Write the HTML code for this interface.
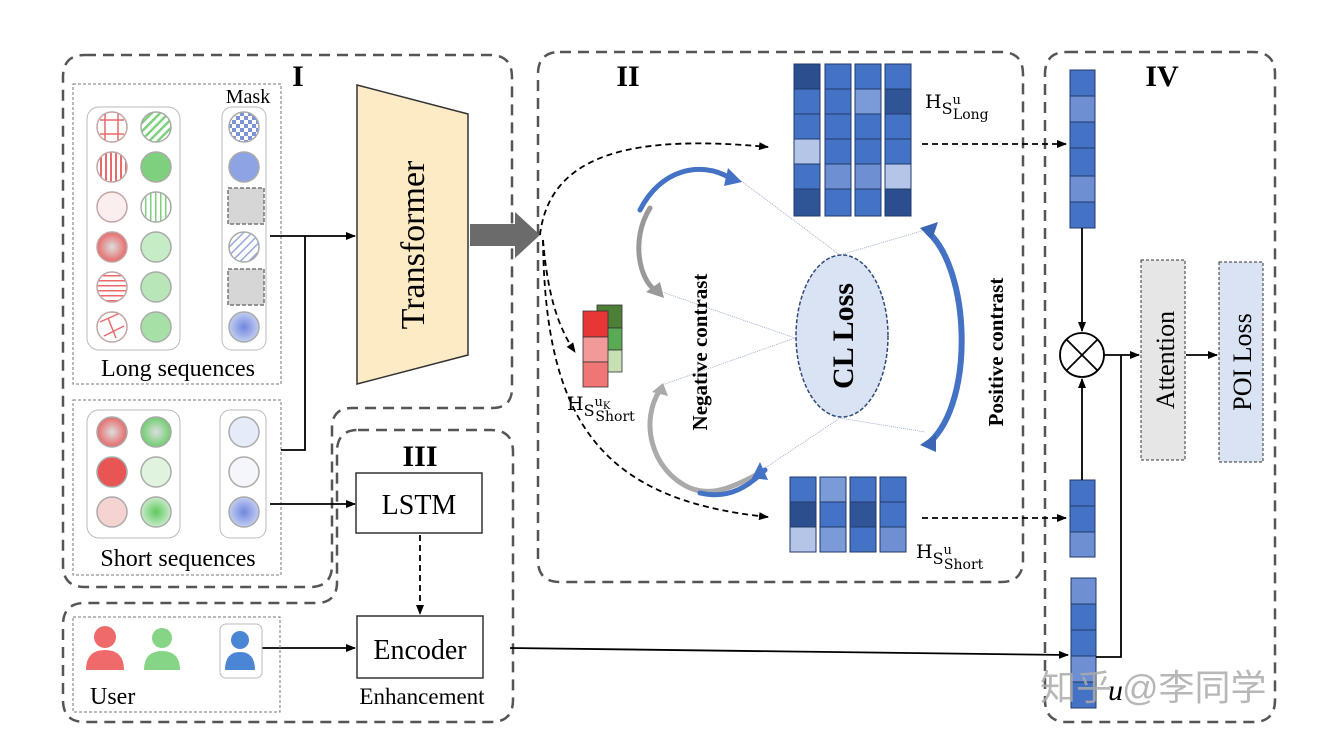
<!DOCTYPE html>
<html><head><meta charset="utf-8"><style>html,body{margin:0;padding:0;background:#fff}svg{display:block}</style></head>
<body>
<svg width="1318" height="742" viewBox="0 0 1318 742" xmlns="http://www.w3.org/2000/svg" font-family="Liberation Serif, serif">
<defs>
<marker id="ah" markerWidth="10" markerHeight="8" refX="9" refY="4" orient="auto" markerUnits="userSpaceOnUse"><path d="M0,0 L10,4 L0,8 z" fill="#000"/></marker>
<pattern id="rs" width="5" height="5" patternUnits="userSpaceOnUse"><rect width="5" height="5" fill="#fff"/><rect width="2" height="5" fill="#e86a6a"/></pattern>
<pattern id="rh" width="5" height="5" patternUnits="userSpaceOnUse"><rect width="5" height="5" fill="#fff"/><rect width="5" height="1.5" fill="#e86a6a"/></pattern>
<pattern id="gs" width="6" height="6" patternUnits="userSpaceOnUse" patternTransform="rotate(45)"><rect width="6" height="6" fill="#fff"/><rect width="2.5" height="6" fill="#7ed07e"/></pattern>
<pattern id="gv" width="5" height="5" patternUnits="userSpaceOnUse"><rect width="5" height="5" fill="#fff"/><rect width="1.5" height="5" fill="#7ed07e"/></pattern>
<pattern id="bd" width="6" height="6" patternUnits="userSpaceOnUse" patternTransform="rotate(45)"><rect width="6" height="6" fill="#fff"/><rect width="1.5" height="6" fill="#9aa9dd"/></pattern>
<pattern id="bc" width="8" height="8" patternUnits="userSpaceOnUse"><rect width="8" height="8" fill="#fff"/><rect width="4" height="4" fill="#7d93d8"/><rect x="4" y="4" width="4" height="4" fill="#7d93d8"/></pattern>
<radialGradient id="rg"><stop offset="0" stop-color="#ddd"/><stop offset="1" stop-color="#e86a6a"/></radialGradient>
<radialGradient id="gg"><stop offset="0" stop-color="#ddd"/><stop offset="1" stop-color="#6fce6f"/></radialGradient>
<radialGradient id="bg"><stop offset="0" stop-color="#6f86e0"/><stop offset="1" stop-color="#c3cdf0"/></radialGradient>
<radialGradient id="gg2"><stop offset="0" stop-color="#5fc95f"/><stop offset="1" stop-color="#c9ebc9"/></radialGradient>
</defs>

<g fill="none" stroke="#555" stroke-width="2.5" stroke-dasharray="11,7">
<path d="M85,55 H490 Q512,55 512,77 V388 Q512,408 492,408 H352 Q332,408 332,428 V565 Q332,587 310,587 H85 Q63,587 63,565 V77 Q63,55 85,55 Z"/>
<path d="M560,52 H1001 Q1023,52 1023,74 V560 Q1023,582 1001,582 H560 Q538,582 538,560 V74 Q538,52 560,52 Z"/>
<path d="M1067,52 H1253 Q1275,52 1275,74 V700 Q1275,722 1253,722 H1067 Q1045,722 1045,700 V74 Q1045,52 1067,52 Z"/>
<path d="M358,430 H491 Q513,430 513,452 V700 Q513,722 491,722 H85 Q63,722 63,700 V625 Q63,603 85,603 H316 Q337,603 337,582 V452 Q337,430 358,430 Z"/>
</g>

<g font-weight="bold" font-size="30" text-anchor="middle">
<text x="298" y="86">I</text><text x="628" y="86">II</text><text x="420" y="466">III</text><text x="1162" y="86">IV</text>
</g>

<rect x="73" y="84" width="208" height="300" fill="none" stroke="#777" stroke-dasharray="3,2"/>
<rect x="87" y="107" width="93" height="243" rx="12" fill="none" stroke="#bbb"/>
<rect x="222" y="107" width="44" height="243" rx="10" fill="none" stroke="#bbb"/>
<text x="248" y="103" font-size="20" text-anchor="middle">Mask</text>
<g stroke="#c4a4a4" stroke-width="1.5">
<circle cx="112" cy="127" r="15" fill="#fff"/><path d="M100,120H124M100,134H124M105,114V140M118,114V140" stroke="#e86a6a"/>
<circle cx="156" cy="127" r="15" fill="url(#gs)" stroke="#aaa"/>
<circle cx="112" cy="167" r="15" fill="url(#rs)"/>
<circle cx="156" cy="167" r="15" fill="#7ed07e" stroke="#aaa"/>
<circle cx="112" cy="207" r="15" fill="#fbeeee"/>
<circle cx="156" cy="207" r="15" fill="url(#gv)" stroke="#aaa"/>
<circle cx="112" cy="247" r="15" fill="url(#rg)"/>
<circle cx="156" cy="247" r="15" fill="#c6ecc6" stroke="#aaa"/>
<circle cx="112" cy="287" r="15" fill="url(#rh)"/>
<circle cx="156" cy="287" r="15" fill="#b8e6b8" stroke="#aaa"/>
<circle cx="112" cy="327" r="15" fill="#fff"/><path d="M100,322L118,314M104,336L124,326M108,318L116,338" stroke="#e86a6a"/>
<circle cx="156" cy="327" r="15" fill="#a7e0a7" stroke="#aaa"/>
<circle cx="244" cy="127" r="15" fill="url(#bc)" stroke="#aaa"/>
<circle cx="244" cy="167" r="15" fill="#8ea3e3" stroke="#aaa"/>
<circle cx="244" cy="247" r="15" fill="url(#bd)" stroke="#aaa"/>
<circle cx="244" cy="327" r="15" fill="url(#bg)" stroke="#aaa"/>
</g>
<rect x="228" y="188" width="36" height="36" fill="#d6d6d6" stroke="#777" stroke-dasharray="4,2" stroke-width="1.5"/>
<rect x="228" y="269" width="36" height="36" fill="#d6d6d6" stroke="#777" stroke-dasharray="4,2" stroke-width="1.5"/>
<text x="178" y="376" font-size="24" text-anchor="middle">Long sequences</text>

<rect x="73" y="400" width="208" height="175" fill="none" stroke="#777" stroke-dasharray="3,2"/>
<rect x="87" y="410" width="93" height="128" rx="12" fill="none" stroke="#bbb"/>
<rect x="220" y="410" width="46" height="128" rx="10" fill="none" stroke="#bbb"/>
<g stroke="#aaa" stroke-width="1.5">
<circle cx="112" cy="432" r="15" fill="url(#rg)"/><circle cx="156" cy="432" r="15" fill="url(#gg)"/>
<circle cx="112" cy="472" r="15" fill="#e95454"/><circle cx="156" cy="472" r="15" fill="#dff3df"/>
<circle cx="112" cy="512" r="15" fill="#f6d3d3"/><circle cx="156" cy="512" r="15" fill="url(#gg2)"/>
<circle cx="244" cy="432" r="15" fill="#e6ebfa"/><circle cx="244" cy="472" r="15" fill="#f4f6fc"/><circle cx="244" cy="512" r="15" fill="url(#bg)"/>
</g>
<text x="178" y="566" font-size="24" text-anchor="middle">Short sequences</text>

<polygon points="357,85 468,114 468,355 357,384" fill="#fdebc6" stroke="#333" stroke-width="1.5"/>
<text transform="translate(424,245) rotate(-90)" font-size="34" text-anchor="middle">Transformer</text>
<g stroke="#000" stroke-width="1.8" fill="none">
<path d="M270,236 H355" marker-end="url(#ah)"/>
<path d="M305,236 V450 H281"/>
<path d="M270,504 H355" marker-end="url(#ah)"/>
<path d="M262,648 H355" marker-end="url(#ah)"/>
<path d="M420,535 V614" stroke-dasharray="6,4" marker-end="url(#ah)"/>
<path d="M510,648 L1068,655" marker-end="url(#ah)"/>
</g>
<polygon points="470,224 515,224 515,212 540,235 515,258 515,246 470,246" fill="#6b6b6b"/>

<rect x="356" y="473" width="126" height="60" fill="#fff" stroke="#333" stroke-width="1.5"/>
<text x="419" y="514" font-size="28" text-anchor="middle">LSTM</text>
<rect x="357" y="616" width="126" height="62" fill="#fff" stroke="#333" stroke-width="1.5"/>
<text x="420" y="659" font-size="28" text-anchor="middle">Encoder</text>
<text x="422" y="704" font-size="23" text-anchor="middle">Enhancement</text>

<rect x="73" y="617" width="207" height="95" fill="none" stroke="#777" stroke-dasharray="3,2"/>
<g fill="#ef6b6b"><circle cx="105" cy="637" r="11"/><path d="M86,670 Q86,650 105,650 Q124,650 124,670 Z"/></g>
<g fill="#86d486"><circle cx="162" cy="638" r="10"/><path d="M144,670 Q144,651 162,651 Q180,651 180,670 Z"/></g>
<rect x="220" y="624" width="42" height="54" rx="6" fill="#fff" stroke="#bbb"/>
<g fill="#4a86d4"><circle cx="240" cy="640" r="9"/><path d="M225,670 Q225,652 240,652 Q255,652 255,670 Z"/></g>
<text x="90" y="704" font-size="24">User</text>

<g stroke="#1f3a6a" stroke-width="1">
<g>
<rect x="794" y="64" width="26" height="25" fill="#2b4f8e"/><rect x="794" y="89" width="26" height="25" fill="#4472c4"/><rect x="794" y="114" width="26" height="25" fill="#4472c4"/><rect x="794" y="139" width="26" height="25" fill="#b4c5e7"/><rect x="794" y="164" width="26" height="25" fill="#4472c4"/><rect x="794" y="189" width="26" height="27" fill="#2f5597"/>
<rect x="825" y="64" width="26" height="25" fill="#4472c4"/><rect x="825" y="89" width="26" height="25" fill="#4472c4"/><rect x="825" y="114" width="26" height="25" fill="#4472c4"/><rect x="825" y="139" width="26" height="25" fill="#4472c4"/><rect x="825" y="164" width="26" height="25" fill="#6f8fd3"/><rect x="825" y="189" width="26" height="27" fill="#4472c4"/>
<rect x="855" y="64" width="26" height="25" fill="#4472c4"/><rect x="855" y="89" width="26" height="25" fill="#7a9ad8"/><rect x="855" y="114" width="26" height="25" fill="#4472c4"/><rect x="855" y="139" width="26" height="25" fill="#4472c4"/><rect x="855" y="164" width="26" height="25" fill="#6f8fd3"/><rect x="855" y="189" width="26" height="27" fill="#4472c4"/>
<rect x="885" y="64" width="26" height="25" fill="#4472c4"/><rect x="885" y="89" width="26" height="25" fill="#2f5597"/><rect x="885" y="114" width="26" height="25" fill="#4472c4"/><rect x="885" y="139" width="26" height="25" fill="#4472c4"/><rect x="885" y="164" width="26" height="25" fill="#b4c5e7"/><rect x="885" y="189" width="26" height="27" fill="#2b4f8e"/>
</g>
<g>
<rect x="790" y="477" width="26" height="25" fill="#4472c4"/><rect x="790" y="502" width="26" height="25" fill="#2b4f8e"/><rect x="790" y="527" width="26" height="25" fill="#b4c5e7"/>
<rect x="820" y="477" width="26" height="25" fill="#7a9ad8"/><rect x="820" y="502" width="26" height="25" fill="#4472c4"/><rect x="820" y="527" width="26" height="25" fill="#7a9ad8"/>
<rect x="850" y="477" width="26" height="25" fill="#4472c4"/><rect x="850" y="502" width="26" height="25" fill="#2f5597"/><rect x="850" y="527" width="26" height="25" fill="#4472c4"/>
<rect x="880" y="477" width="26" height="25" fill="#4472c4"/><rect x="880" y="502" width="26" height="25" fill="#4472c4"/><rect x="880" y="527" width="26" height="25" fill="#6f8fd3"/>
</g>
</g>
<g stroke="#333" stroke-width="0.8">
<rect x="597" y="305" width="25" height="23" fill="#4e7f36"/><rect x="597" y="328" width="25" height="22" fill="#5aaa55"/><rect x="597" y="350" width="25" height="22" fill="#c6e0b4"/>
<rect x="583" y="311" width="25" height="26" fill="#e83535"/><rect x="583" y="337" width="25" height="25" fill="#f29a9a"/><rect x="583" y="362" width="25" height="25" fill="#f07575"/>
</g>
<g font-family="DejaVu Serif, serif">
<text x="925" y="108" font-size="19">H<tspan font-size="16" dy="6">S</tspan><tspan font-size="13" dy="-10">u</tspan><tspan font-size="14" dx="-8" dy="15">Long</tspan></text>
<text x="916" y="558" font-size="19">H<tspan font-size="16" dy="6">S</tspan><tspan font-size="13" dy="-10">u</tspan><tspan font-size="14" dx="-8" dy="15">Short</tspan></text>
<text x="567" y="410" font-size="19">H<tspan font-size="16" dy="6">S</tspan><tspan font-size="13" dy="-10">u</tspan><tspan font-size="10" dy="3">K</tspan><tspan font-size="14" dx="-15" dy="12">Short</tspan></text>
</g>

<g fill="none" stroke="#000" stroke-width="1.8" stroke-dasharray="6,4">
<path d="M540,235 C550,150 640,135 768,147" marker-end="url(#ah)"/>
<path d="M543,240 C548,300 560,330 575,352" marker-end="url(#ah)"/>
<path d="M543,240 C545,420 600,500 768,517" marker-end="url(#ah)"/>
<path d="M922,144 H1066" marker-end="url(#ah)"/>
<path d="M922,518 H1066" marker-end="url(#ah)"/>
</g>
<g stroke="#8fa0c8" stroke-width="0.8" stroke-dasharray="1,1" fill="none">
<path d="M740,180 L840,255 L925,230"/><path d="M662,292 L795,338 L662,385"/><path d="M765,468 L840,418 L925,432"/>
</g>
<ellipse cx="842" cy="336" rx="46" ry="81" fill="#dae3f3" stroke="#2f4a7a" stroke-width="1.5" stroke-dasharray="4,2"/>
<text transform="translate(853,336) rotate(-90)" font-size="30" font-weight="bold" text-anchor="middle">CL Loss</text>
<text transform="translate(707,352) rotate(-90)" font-size="21" font-weight="bold" text-anchor="middle">Negative contrast</text>
<text transform="translate(1003,352) rotate(-90)" font-size="21" font-weight="bold" text-anchor="middle">Positive contrast</text>
<g fill="none" stroke-linecap="round">
<path d="M640,210 C660,170 700,160 730,178" stroke="#4472c4" stroke-width="5"/>
<polygon points="728,168 742,182 724,186" fill="#4472c4"/>
<path d="M650,208 C630,240 640,280 655,290" stroke="#999" stroke-width="5"/>
<polygon points="646,292 664,298 660,282" fill="#999"/>
<path d="M660,390 C640,420 650,470 690,488 C710,496 730,490 765,470" stroke="#aaa" stroke-width="5"/>
<polygon points="652,392 663,383 668,396" fill="#aaa"/>
<path d="M700,493 C730,500 750,485 765,470" stroke="#4472c4" stroke-width="5"/>
<polygon points="760,462 768,480 752,478" fill="#4472c4"/>
<path d="M928,232 C970,270 975,400 930,442" stroke="#4472c4" stroke-width="6"/>
<polygon points="920,228 938,222 932,240" fill="#3a66b5"/>
<polygon points="920,445 936,434 936,452" fill="#3a66b5"/>
</g>

<g stroke="#1f3a6a" stroke-width="1">
<rect x="1070" y="70" width="25" height="26" fill="#4472c4"/><rect x="1070" y="96" width="25" height="26" fill="#6f8fd3"/><rect x="1070" y="122" width="25" height="26" fill="#4472c4"/><rect x="1070" y="148" width="25" height="28" fill="#4472c4"/><rect x="1070" y="176" width="25" height="26" fill="#6f8fd3"/><rect x="1070" y="202" width="25" height="26" fill="#4472c4"/>
<rect x="1070" y="480" width="25" height="26" fill="#4472c4"/><rect x="1070" y="506" width="25" height="26" fill="#4472c4"/><rect x="1070" y="532" width="25" height="25" fill="#6f8fd3"/>
<rect x="1071" y="578" width="25" height="26" fill="#6f8fd3"/><rect x="1071" y="604" width="25" height="26" fill="#4472c4"/><rect x="1071" y="630" width="25" height="26" fill="#4472c4"/><rect x="1071" y="656" width="25" height="26" fill="#6f8fd3"/><rect x="1071" y="682" width="25" height="26" fill="#4472c4"/>
</g>
<g stroke="#000" stroke-width="1.8" fill="none">
<path d="M1082,228 V331" marker-end="url(#ah)"/>
<path d="M1082,480 V379" marker-end="url(#ah)"/>
<path d="M1104,355 H1139" marker-end="url(#ah)"/>
<path d="M1096,657 H1121 V355"/>
<path d="M1186,355 H1217" marker-end="url(#ah)"/>
<circle cx="1082" cy="355" r="22" fill="#fff"/>
<path d="M1066,339 L1098,371 M1098,339 L1066,371"/>
</g>
<rect x="1141" y="260" width="44" height="200" fill="#e6e6e6" stroke="#333" stroke-dasharray="3,2"/>
<text transform="translate(1174,360) rotate(-90)" font-size="26" text-anchor="middle">Attention</text>
<rect x="1219" y="262" width="44" height="200" fill="#dae3f3" stroke="#333" stroke-dasharray="3,2"/>
<text transform="translate(1251,362) rotate(-90)" font-size="26" text-anchor="middle">POI Loss</text>
<text x="1108" y="700" font-size="30" font-style="italic">u</text>
<text x="1040" y="700" font-size="36" fill="#aaa" fill-opacity="0.85" font-family="Liberation Sans, Noto Sans CJK SC, sans-serif">知乎 @李同学</text>
</svg>
</body></html>
